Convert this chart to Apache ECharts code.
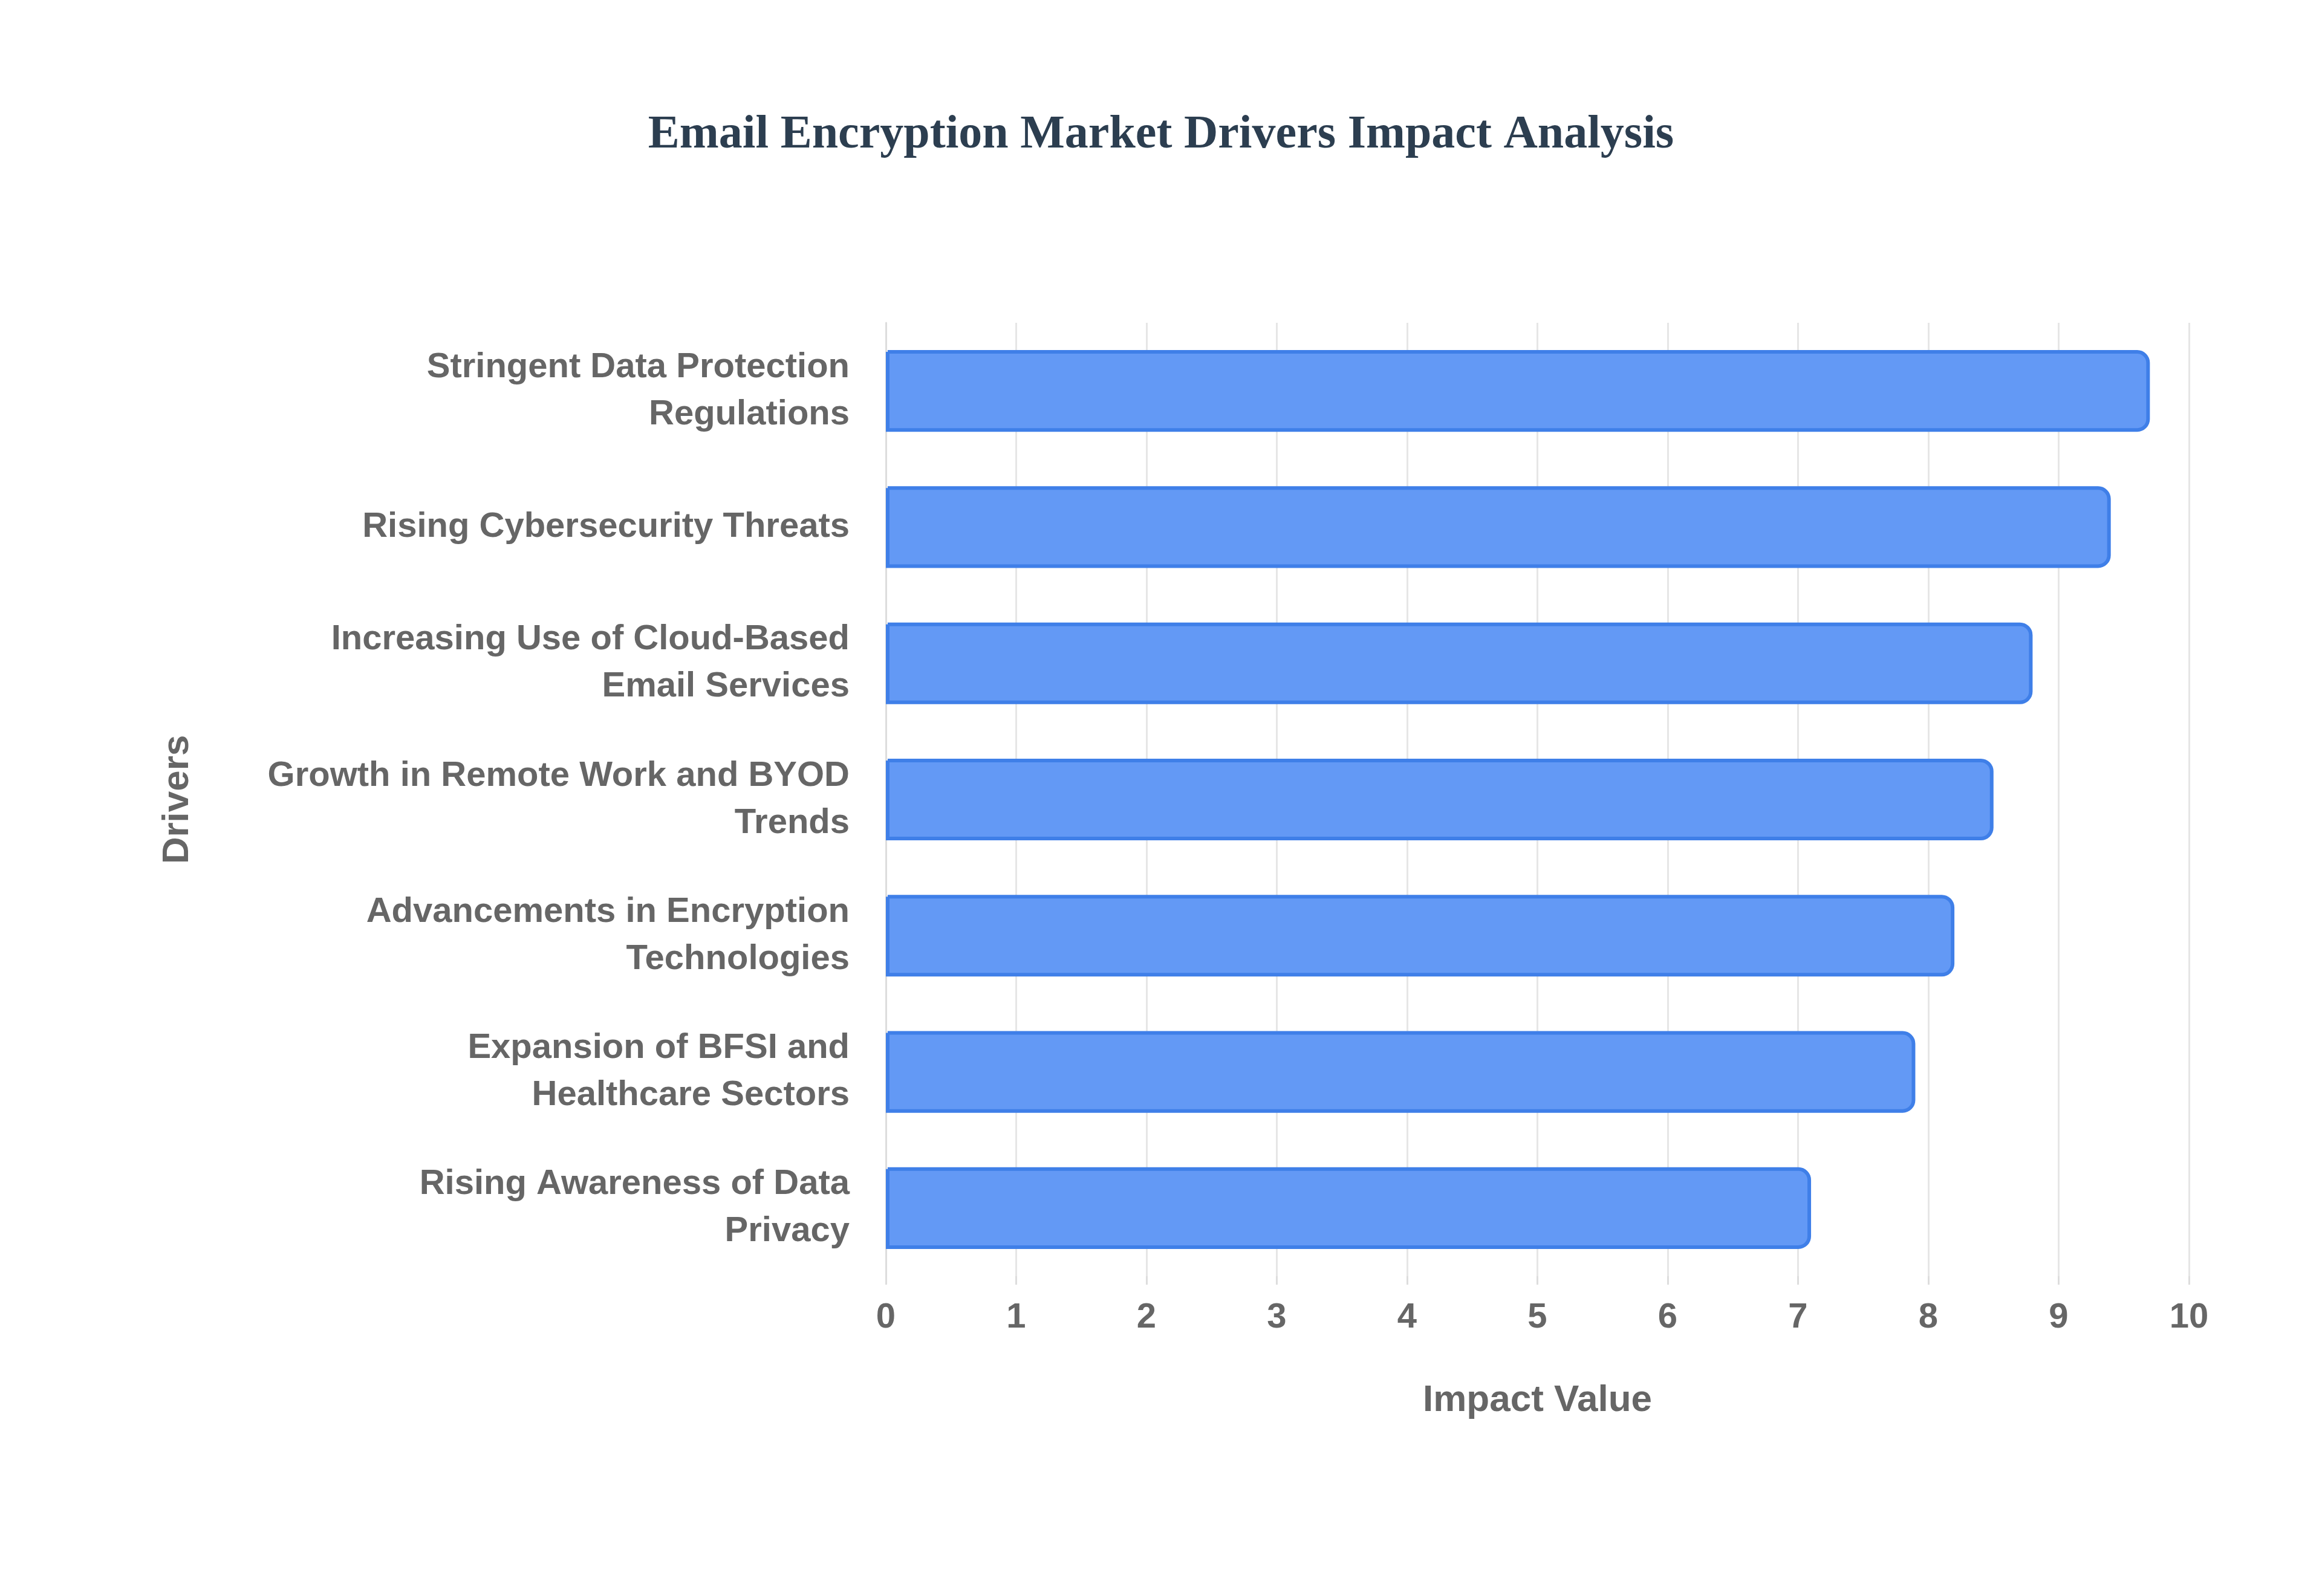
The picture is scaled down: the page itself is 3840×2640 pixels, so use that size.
<!DOCTYPE html>
<html>
<head>
<meta charset="utf-8">
<script src="https://cdn.jsdelivr.net/npm/echarts@6/dist/echarts.min.js"></script>
<style>html,body{margin:0;padding:0;background:#fff}#chart{width:3840px;height:2640px}</style>
</head>
<body>
<div id="chart"></div>
<script>
// drivers, bottom to top as the category axis draws them
var drivers = [
	"Rising Awareness of Data\nPrivacy",
	"Expansion of BFSI and\nHealthcare Sectors",
	"Advancements in Encryption\nTechnologies",
	"Growth in Remote Work and BYOD\nTrends",
	"Increasing Use of Cloud-Based\nEmail Services",
	"Rising Cybersecurity Threats",
	"Stringent Data Protection\nRegulations"
];
var impactValues = [7.1, 7.9, 8.2, 8.5, 8.8, 9.4, 9.7];
var xTicks = [0, 10, 1];

var myChart = echarts.init(document.getElementById('chart'));
var labelFont = { color: '#666', fontWeight: 'bold', fontFamily: 'Liberation Sans, Arial', fontSize: 58 };
myChart.setOption({
	animation: false,
	title: {
		text: 'Email Encryption Market Drivers Impact Analysis',
		left: 'center', top: 180,
		textStyle: { fontFamily: 'Liberation Serif, serif', fontWeight: 'bold', fontSize: 78, color: '#2c3e50' }
	},
	grid: { left: 1465, right: 220, top: 534, bottom: 529 },
	xAxis: {
		type: 'value', min: xTicks[0], max: xTicks[1], interval: xTicks[2],
		name: 'Impact Value', nameLocation: 'middle', nameGap: 175,
		nameTextStyle: { color: '#666', fontWeight: 'bold', fontFamily: 'Liberation Sans, Arial', fontSize: 62 },
		axisLabel: Object.assign({ margin: 40 }, labelFont),
		axisLine: { show: false },
		axisTick: { show: true, length: 14, lineStyle: { color: '#ddd', width: 3 } },
		splitLine: { lineStyle: { color: '#e6e6e6', width: 3 } }
	},
	yAxis: {
		type: 'category', data: drivers,
		name: 'Drivers', nameLocation: 'middle', nameGap: 1140, nameRotate: 90,
		nameTextStyle: { color: '#666', fontWeight: 'bold', fontFamily: 'Liberation Sans, Arial', fontSize: 62 },
		axisLabel: Object.assign({ margin: 60, lineHeight: 78, align: 'right' }, labelFont),
		axisLine: { lineStyle: { color: '#ddd', width: 3 } },
		axisTick: { show: false }
	},
	series: [{
		type: 'bar', data: impactValues, barWidth: '60%',
		itemStyle: { color: '#6399f5', borderColor: '#3f7fe8', borderWidth: 6, borderRadius: [0, 18, 18, 0] }
	}]
});
</script>
</body>
</html>
